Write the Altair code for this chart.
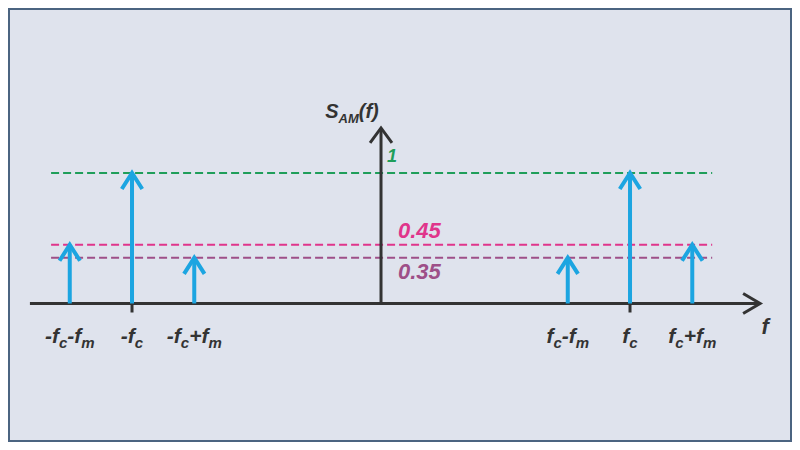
import altair as alt
import pandas as pd

# ---------------- data ----------------
freq_labels = ["-f_c-f_m", "-f_c", "-f_c+f_m", "f_c-f_m", "f_c", "f_c+f_m"]
freq_values = [-5, -4, -3, 3, 4, 5]          # in units of f_m (f_c = 4 f_m)
amplitudes = [0.45, 1.0, 0.35, 0.35, 1.0, 0.45]

level_values = [1.0, 0.45, 0.35]
level_labels = ["1", "0.45", "0.35"]
level_span = [-5.3, 5.32]

marked_ticks = [-4, 4]
x_axis_span = [-5.64, 6.09]
y_axis_top = 1.345
x_domain = [-5.96, 6.57]
y_domain = [-1.046, 2.249]

y_title = "S_{AM}(f)"
x_title = "f"

# ---------------- styles ----------------
FONT = "Liberation Sans"
BG = "#4b6481"
PANEL = "#dfe3ed"
AX = "#333333"
BLUE = "#1ca5e1"
level_colors = ["#1f9e5a", "#e0358b", "#9e4f88"]

# Arial-bold advance widths (em)
CW = {"-": 0.333, "f": 0.333, "+": 0.584, "c": 0.556, "m": 0.889,
      "S": 0.667, "A": 0.722, "M": 0.833, "(": 0.333, ")": 0.333}

xs = alt.Scale(domain=x_domain, nice=False, zero=False)
ys = alt.Scale(domain=y_domain, nice=False, zero=False)


def X(f):
    return alt.X(f"{f}:Q", scale=xs, axis=None)


def Y(f):
    return alt.Y(f"{f}:Q", scale=ys, axis=None)


def parse(label):
    pieces, buf, i = [], "", 0
    while i < len(label):
        ch = label[i]
        if ch == "_":
            if buf:
                pieces.append((buf, False))
                buf = ""
            if label[i + 1] == "{":
                j = label.index("}", i)
                pieces.append((label[i + 2:j], True))
                i = j + 1
            else:
                pieces.append((label[i + 1], True))
                i += 2
        else:
            buf += ch
            i += 1
    if buf:
        pieces.append((buf, False))
    return pieces


def composite(xv, yv, label, cdx, dy, main, sub, drop):
    pieces = parse(label)
    widths = [sum(CW.get(c, 0.55) for c in t) * (sub if s else main) for t, s in pieces]
    start = cdx - sum(widths) / 2
    out, cum = [], 0.0
    for (t, s), w in zip(pieces, widths):
        df = pd.DataFrame({"x": [xv], "y": [yv], "t": [t]})
        out.append(
            alt.Chart(df).mark_text(
                align="left", baseline="alphabetic", dx=start + cum,
                dy=dy + (drop if s else 0), fontSize=sub if s else main,
                font=FONT, fontWeight="bold", fontStyle="italic", color=AX,
            ).encode(x=X("x"), y=Y("y"), text="t:N")
        )
        cum += w
    return out


layers = []

# dashed level lines
levels_df = pd.DataFrame({"y": level_values, "label": level_labels,
                          "x": level_span[0], "x2": level_span[1]})
lvl_color = alt.Color("label:N", scale=alt.Scale(domain=level_labels, range=level_colors),
                      legend=None)
layers.append(alt.Chart(levels_df).mark_rule(strokeDash=[8, 4], strokeWidth=2).encode(
    x=X("x"), x2="x2:Q", y=Y("y"), color=lvl_color))

# level labels
lvl_offsets = [(6, -15.5, 18), (17, -14, 22), (17, 14, 22)]
for i, (dx, dy, size) in enumerate(lvl_offsets):
    df = pd.DataFrame({"x": [0], "y": [level_values[i]], "label": [level_labels[i]]})
    layers.append(alt.Chart(df).mark_text(
        align="left", baseline="middle", dx=dx, dy=dy, fontSize=size, font=FONT,
        fontWeight="bold", fontStyle="italic").encode(
        x=X("x"), y=Y("y"), text="label:N", color=lvl_color))

# horizontal axis
hdf = pd.DataFrame({"x": [x_axis_span[0]], "x2": [x_axis_span[1]], "y": [0]})
layers.append(alt.Chart(hdf).mark_rule(color=AX, strokeWidth=3).encode(
    x=X("x"), x2="x2:Q", y=Y("y")))
hhead = pd.DataFrame({"x": [x_axis_span[1]], "y": [0]})
layers.append(alt.Chart(hhead).mark_point(
    shape="M-1,-0.59 L0,0 L-1,0.59", size=1156, filled=False, strokeWidth=3,
    color=AX, opacity=1, strokeJoin="miter").encode(x=X("x"), y=Y("y")))

# vertical axis
vdf = pd.DataFrame({"x": [0], "y": [0], "y2": [y_axis_top]})
layers.append(alt.Chart(vdf).mark_rule(color=AX, strokeWidth=3).encode(
    x=X("x"), y=Y("y"), y2="y2:Q"))
vhead = pd.DataFrame({"x": [0], "y": [y_axis_top]})
layers.append(alt.Chart(vhead).mark_point(
    shape="M-0.73,1 L0,0 L0.73,1", size=900, filled=False, strokeWidth=3,
    color=AX, opacity=1, strokeJoin="miter").encode(x=X("x"), y=Y("y")))

# small ticks at +-fc
tdf = pd.DataFrame({"x": marked_ticks, "y": [0] * len(marked_ticks)})
layers.append(alt.Chart(tdf).mark_tick(
    orient="vertical", size=10, thickness=3, yOffset=4, color=AX, opacity=1).encode(
    x=X("x"), y=Y("y")))

# spectral lines (arrows)
sdf = pd.DataFrame({"f": freq_values, "amp": amplitudes, "base": [0] * len(freq_values)})
layers.append(alt.Chart(sdf).mark_rule(color=BLUE, strokeWidth=4).encode(
    x=X("f"), y=Y("base"), y2="amp:Q"))
layers.append(alt.Chart(sdf).mark_point(
    shape="M-0.64,1 L0,0 L0.64,1", size=1024, filled=False, strokeWidth=4,
    color=BLUE, opacity=1, strokeJoin="miter").encode(x=X("f"), y=Y("amp")))

# tick labels
for lab, fv in zip(freq_labels, freq_values):
    layers += composite(fv, 0, lab, 0, 40, 21, 15, 4.5)

# axis titles
layers += composite(0, y_axis_top, y_title, -29, -10, 20, 13, 5)
layers += composite(x_axis_span[1], 0, x_title, 5, 31, 22, 14, 4)

chart = alt.layer(*layers).properties(
    width=780, height=430,
    padding={"left": 2, "right": 2, "top": 2, "bottom": 2},
    autosize=alt.AutoSizeParams(type="none"),
    background=BG,
).configure_view(fill=PANEL, strokeWidth=0)

chart.save("out.html", embed_options={"renderer": "svg", "actions": False})
